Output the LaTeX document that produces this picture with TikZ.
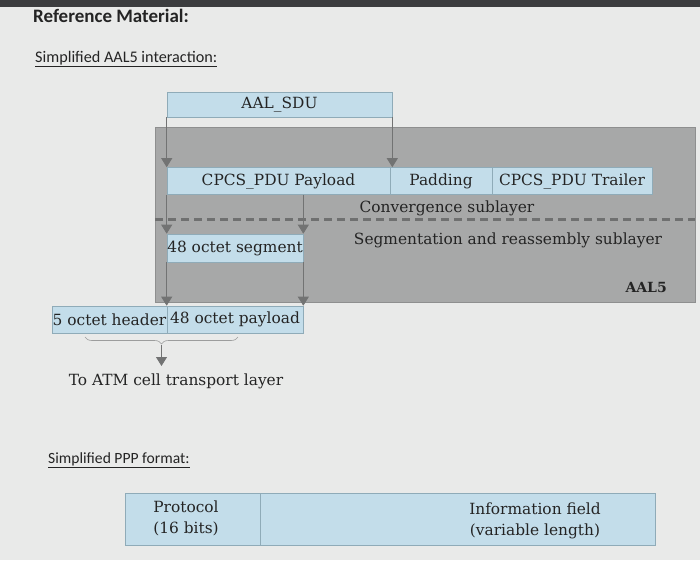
\documentclass[tikz,border=0pt]{standalone}
\usepackage{fontspec}
\setmainfont{DejaVu Serif}
\newfontfamily\headfont{Carlito}
\usetikzlibrary{arrows.meta,decorations.pathreplacing}
\definecolor{bg}{HTML}{E9EAE9}
\definecolor{topbar}{HTML}{3C3D3F}
\definecolor{ink}{HTML}{242424}
\definecolor{fieldblue}{HTML}{C3DDEA}
\definecolor{fieldedge}{HTML}{8FABB8}
\definecolor{aalgray}{HTML}{A7A8A8}
\definecolor{flowgray}{HTML}{727373}
\definecolor{dashgray}{HTML}{6F7070}
\begin{document}
\begin{tikzpicture}[x=1pt,y=-1pt,
  field/.style={draw=fieldedge, fill=fieldblue, line width=0.6pt, inner sep=0pt,
    font=\fontsize{15.4}{18}\selectfont, text=ink},
  lbl/.style={inner sep=0pt, font=\fontsize{15.4}{21}\selectfont, text=ink, align=center},
  head/.style={anchor=base west, inner sep=0pt, text=ink},
  flow/.style={draw=flowgray, line width=0.8pt, -{Triangle[width=11pt,length=9pt]}},
  bracestyle/.style={draw=flowgray!70, line width=0.6pt,
    decorate, decoration={brace, mirror, amplitude=7pt}}]
\useasboundingbox (0,0) rectangle (700,560);
\fill[bg] (0,0) rectangle (700,560);
\fill[topbar] (0,0) rectangle (700,7);

% headings
\node[head, font=\headfont\bfseries\fontsize{19}{22}\selectfont] (h1) at (33,22) {Reference Material:};
\node[head, font=\headfont\fontsize{16.2}{19}\selectfont] (h2) at (35,62) {\underline{Simplified AAL5 interaction:}};
\node[head, font=\headfont\fontsize{15.6}{18}\selectfont] (h3) at (48,463) {\underline{Simplified PPP format:}};

% AAL5 layer box
\node[fill=aalgray, draw=aalgray!85!black, line width=0.5pt, minimum width=540, minimum height=175, inner sep=0pt] (aal5) at (425,214.5) {};
\node[anchor=base east, inner sep=0pt, text=ink, font=\bfseries\fontsize{14}{17}\selectfont] (aal5lbl) at (667,292) {AAL5};
\draw[dashgray, line width=3pt, dash pattern=on 8pt off 5pt] (aal5.west |- 0,219) coordinate (dl) -- (aal5.east |- 0,219) coordinate (dr);

% fields
\node[field, minimum width=225, minimum height=25] (sdu) at (279.5,104.5) {AAL\_SDU};
\node[field, minimum width=223, minimum height=27] (pay) at (278.5,181) {CPCS\_PDU Payload};
\node[field, minimum width=102, minimum height=27] (pad) at (441,181) {Padding};
\node[field, minimum width=160, minimum height=27] (trl) at (572,181) {CPCS\_PDU Trailer};
\node[lbl] (conv) at (447,208) {Convergence sublayer};
\node[lbl] (sar) at (508,240) {Segmentation and reassembly sublayer};
\node[field, minimum width=136, minimum height=28] (seg) at (235,248) {48 octet segment};
\node[field, minimum width=115, minimum height=27] (hdr) at (109.5,319.5) {5 octet header};
\node[field, minimum width=136, minimum height=27] (payl) at (235,319.5) {48 octet payload};

% connectors
\draw[flow] (sdu.south west) -- (pay.north west);
\draw[flow] (sdu.south east) -- (sdu.south east |- pad.north);
\draw[flow] (pay.south west) -- (seg.north west);
\draw[flow] (seg.north east |- pay.south) -- (seg.north east);
\draw[flow] (seg.south west) -- (payl.north west);
\draw[flow] (seg.south east) -- (payl.north east);

% brace and exit
\coordinate (bl) at (85,337);
\coordinate (br) at (238,337);
\draw[bracestyle] (bl) -- (br);
\coordinate (bt) at (161.5,345);
\coordinate (btend) at (161.5,366);
\draw[flow] (bt) -- (btend);
\node[lbl] (atm) at (176,381) {To ATM cell transport layer};

% PPP format
\node[field, minimum width=135, minimum height=52] (proto) at (192.5,519) {};
\node[field, minimum width=395, minimum height=52] (info) at (457.5,519) {};
\node[lbl] (protot) at (186,518.5) {Protocol\\(16 bits)};
\node[lbl] (infot) at (535,520.5) {Information field\\(variable length)};
\end{tikzpicture}
\end{document}
